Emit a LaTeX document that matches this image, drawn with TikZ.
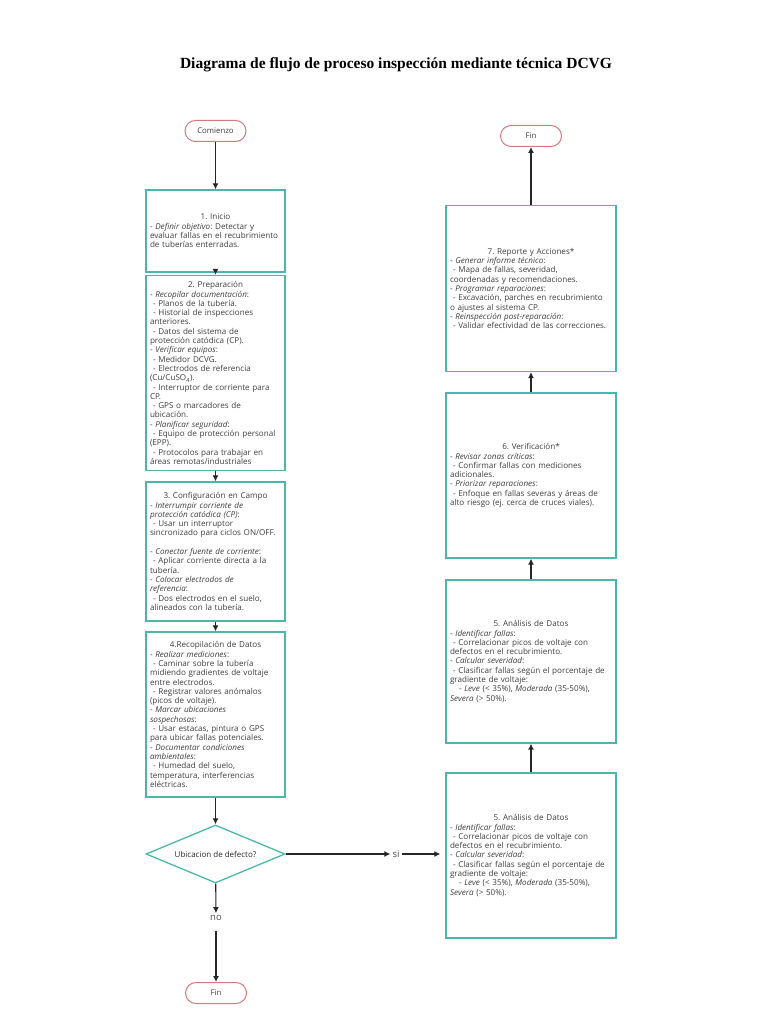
\documentclass[tikz,border=0pt]{standalone}
\usepackage{fontspec}
\setmainfont{Open Sans}
\newfontfamily\titlefont{Liberation Serif}
\usetikzlibrary{positioning,shapes.geometric,arrows.meta}
\definecolor{boxc}{HTML}{4DB6AC}
\definecolor{termc}{HTML}{D9777A}
\definecolor{txtc}{HTML}{3C3C3C}
\newcommand{\indsp}{\hspace*{3pt}}
\newcommand{\hd}[1]{\makebox[\hsize][c]{#1}}
\frenchspacing

\begin{document}
\begin{tikzpicture}[x=1pt,y=-1pt,
		term/.style={draw=termc, line width=1pt, rounded corners=10.5pt, minimum width=61pt, minimum height=21pt, inner sep=0pt, font=\fontsize{7.8}{8}\selectfont, text=txtc},
		stepbox/.style={draw=boxc, line width=1.3pt, minimum width=139pt, text width=131pt, inner sep=4pt, align=left, font=\fontsize{8.1}{9.3}\selectfont, text=txtc},
		widebox/.style={stepbox, minimum width=170pt, text width=162pt},
		dec/.style={diamond, aspect=2.4, draw=boxc, line width=1.3pt, minimum width=139pt, minimum height=58pt, inner sep=0pt, font=\fontsize{8}{9}\selectfont, text=black!85},
		lbl/.style={inner sep=2pt, font=\fontsize{9.5}{10}\selectfont, text=black!70},
		arr/.style={-{Latex[length=6pt,width=6pt]}, line width=1.1pt, black!85}]
	\useasboundingbox (0,0) rectangle (768,1024);
	\path 	(396,65) 	node 	(title) [font=\titlefont\bfseries\fontsize{15.5}{17}\selectfont] {Diagrama de flujo de proceso inspección mediante técnica DCVG};
	% left column
	\path 	(215.5,131) 	node 	(start) [term] {Comienzo}
	        (215.5,231) 	node 	(s1) [stepbox, minimum height=82pt] {\hd{1. Inicio}\\
		- \textit{Definir objetivo}: Detectar y\\
		evaluar fallas en el recubrimiento\\
		de tuberías enterradas.}
	        (215.5,373) 	node 	(s2) [stepbox, minimum height=195pt] {\hd{2. Preparación}\\
		- \textit{Recopilar documentación}:\\
		\indsp- Planos de la tubería.\\
		\indsp- Historial de inspecciones\\
		anteriores.\\
		\indsp- Datos del sistema de\\
		protección catódica (CP).\\
		- \textit{Verificar equipos}:\\
		\indsp- Medidor DCVG.\\
		\indsp- Electrodos de referencia\\
		(Cu/CuSO\textsubscript{4}).\\
		\indsp- Interruptor de corriente para\\
		CP.\\
		\indsp- GPS o marcadores de\\
		ubicación.\\
		- \textit{Planificar seguridad}:\\
		\indsp- Equipo de protección personal\\
		(EPP).\\
		\indsp- Protocolos para trabajar en\\
		áreas remotas/industriales}
	        (215.5,551.5) 	node 	(s3) [stepbox, minimum height=139pt] {\hd{3. Configuración en Campo}\\
		- \textit{Interrumpir corriente de}\\
		\textit{protección catódica (CP)}:\\
		\indsp- Usar un interruptor\\
		sincronizado para ciclos ON/OFF.\\[9.3pt]
		- \textit{Conectar fuente de corriente}:\\
		\indsp- Aplicar corriente directa a la\\
		tubería.\\
		- \textit{Colocar electrodos de}\\
		\textit{referencia}:\\
		\indsp- Dos electrodos en el suelo,\\
		alineados con la tubería.}
	        (215.5,714.5) 	node 	(s4) [stepbox, minimum height=165pt] {\hd{4.Recopilación de Datos}\\
		- \textit{Realizar mediciones}:\\
		\indsp- Caminar sobre la tubería\\
		midiendo gradientes de voltaje\\
		entre electrodos.\\
		\indsp- Registrar valores anómalos\\
		(picos de voltaje).\\
		- \textit{Marcar ubicaciones}\\
		\textit{sospechosas}:\\
		\indsp- Usar estacas, pintura o GPS\\
		para ubicar fallas potenciales.\\
		- \textit{Documentar condiciones}\\
		\textit{ambientales}:\\
		\indsp- Humedad del suelo,\\
		temperatura, interferencias\\
		eléctricas.}
	        (215.5,854) 	node 	(q) [dec] {Ubicacion de defecto?}
	        (216,918) 	node 	(no) [lbl] {no}
	        (216,993) 	node 	(fin1) [term] {Fin}
	        (396,854) 	node 	(si) [lbl] {si};
	% right column
	\path 	(531,855.5) 	node 	(s5b) [widebox, minimum height=165pt] {\hd{5. Análisis de Datos}\\
		- \textit{Identificar fallas}:\\
		\indsp- Correlacionar picos de voltaje con\\
		defectos en el recubrimiento.\\
		- \textit{Calcular severidad}:\\
		\indsp- Clasificar fallas según el porcentaje de\\
		gradiente de voltaje:\\
		\hspace*{9pt}- \textit{Leve} (< 35\%), \textit{Moderada} (35-50\%),\\
		\textit{Severa} (> 50\%).}
	        (531,661.5) 	node 	(s5a) [widebox, minimum height=163pt] {\hd{5. Análisis de Datos}\\
		- \textit{Identificar fallas}:\\
		\indsp- Correlacionar picos de voltaje con\\
		defectos en el recubrimiento.\\
		- \textit{Calcular severidad}:\\
		\indsp- Clasificar fallas según el porcentaje de\\
		gradiente de voltaje:\\
		\hspace*{9pt}- \textit{Leve} (< 35\%), \textit{Moderada} (35-50\%),\\
		\textit{Severa} (> 50\%).}
	        (531,475.5) 	node 	(s6) [widebox, minimum height=165pt] {\hd{6. Verificación*}\\
		- \textit{Revisar zonas críticas}:\\
		\indsp- Confirmar fallas con mediciones\\
		adicionales.\\
		- \textit{Priorizar reparaciones}:\\
		\indsp- Enfoque en fallas severas y áreas de\\
		alto riesgo (ej. cerca de cruces viales).}
	        (531,288.5) 	node 	(s7) [widebox, minimum height=166pt] {\hd{7. Reporte y Acciones*}\\
		- \textit{Generar informe técnico}:\\
		\indsp- Mapa de fallas, severidad,\\
		coordenadas y recomendaciones.\\
		- \textit{Programar reparaciones}:\\
		\indsp- Excavación, parches en recubrimiento\\
		o ajustes al sistema CP.\\
		- \textit{Reinspección post-reparación}:\\
		\indsp- Validar efectividad de las correcciones.}
	        (531,136) 	node 	(fin2) [term] {Fin};
	% connectors
	\draw [arr] (start) -- (s1);
	\draw [arr] (s1) -- (s2);
	\draw [arr] (s2) -- (s3);
	\draw [arr] (s3) -- (s4);
	\draw [arr] (s4) -- (q);
	\draw [arr] (q) -- (no);
	\draw [arr, shorten <=8pt] (no) -- (fin1);
	\draw [arr] (q.east) -- (si.west);
	\draw [arr, shorten >=5pt] (si.east) -- (si.east -| s5b.west);
	\draw [arr] (s5b) -- (s5a);
	\draw [arr] (s5a) -- (s6);
	\draw [arr] (s6) -- (s7);
	\draw [arr] (s7) -- (fin2);
\end{tikzpicture}
\end{document}
